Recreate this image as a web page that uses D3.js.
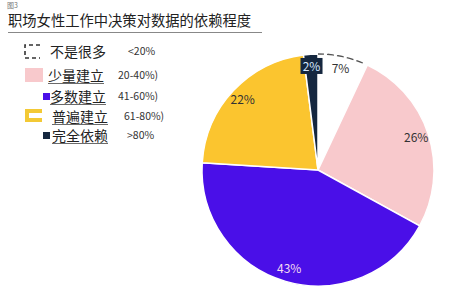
<!DOCTYPE html>
<html>
<head>
<meta charset="utf-8">
<script src="https://cdn.jsdelivr.net/npm/d3@7"></script>
<style>
  body { margin: 0; background: #fff; }
  svg { display: block; font-family: "Noto Sans CJK SC", "Noto Sans", sans-serif; }
</style>
</head>
<body>
<div id="chart"></div>
<script>
// data
var categories = ["不是很多", "少量建立", "多数建立", "普遍建立", "完全依赖"];
var ranges = ["<20%", "20-40%)", "41-60%)", "61-80%)", ">80%"];
var values = [7, 26, 43, 22, 2];
var colors = ["#ffffff", "#f8c9cc", "#4a0fe8", "#fbc52f", "#15273f"];
var labelColors = ["#333", "#333", "#f4dcf0", "#333", "#d6e8ff"];

var width = 451, height = 297;

var svg = d3.select("#chart").append("svg")
  .attr("width", width)
  .attr("height", height);

// title
svg.append("text").attr("x", 7).attr("y", 8)
  .style("font-size", "7px").style("fill", "#777").text("图3");
svg.append("text").attr("x", 8).attr("y", 26)
  .style("font-size", "14.3px").style("fill", "#222").text("职场女性工作中决策对数据的依赖程度");
svg.append("line").attr("x1", 8).attr("x2", 262).attr("y1", 32.5).attr("y2", 32.5)
  .attr("stroke", "#888").attr("stroke-width", 1);

// pie
var cx = 318, cy = 170, r = 116;
var g = svg.append("g").attr("transform", "translate(" + cx + "," + cy + ")");

var pie = d3.pie().sort(null).value(d => d);
var arcs = pie(values);
var arc = d3.arc().innerRadius(0).outerRadius(r);
var labelArc = d3.arc().innerRadius(r * 0.89).outerRadius(r * 0.89);

g.selectAll("path.slice")
  .data(arcs)
  .enter()
  .append("path")
  .attr("class", "slice")
  .attr("d", arc)
  .attr("fill", (d, i) => colors[i])
  .attr("stroke", "#fff")
  .attr("stroke-width", 1.5);

// dashed outer edge of the white slice
var outline = d3.arc().innerRadius(r).outerRadius(r);
g.append("path")
  .attr("d", outline({ startAngle: arcs[0].startAngle, endAngle: arcs[0].endAngle - 0.03 }))
  .attr("fill", "none")
  .attr("stroke", "#555")
  .attr("stroke-width", 1.3)
  .attr("stroke-dasharray", "6,4");

// box behind the small label
var c2 = labelArc.centroid(arcs[4]);
g.append("rect")
  .attr("x", c2[0] - 11).attr("y", c2[1] - 9)
  .attr("width", 22).attr("height", 16)
  .attr("fill", colors[4]);

g.selectAll("text.lbl")
  .data(arcs)
  .enter()
  .append("text")
  .attr("class", "lbl")
  .attr("transform", d => "translate(" + labelArc.centroid(d) + ")")
  .attr("text-anchor", "middle")
  .attr("dy", "0.35em")
  .style("font-size", "12px")
  .style("fill", (d, i) => labelColors[i])
  .text(d => d.data + "%");

// legend
var rowY = [51, 75, 96, 116, 135];
var textX = [50, 48, 50, 52, 52];
var rangeX = [128, 118, 118, 124, 127];
var lg = svg.append("g");

// row 1: dashed bracket
lg.append("path")
  .attr("d", "M40,45 L25,45 L25,58 L40,58")
  .attr("fill", "none").attr("stroke", "#333").attr("stroke-width", 1.6)
  .attr("stroke-dasharray", "4,3");
// row 2: pink block
lg.append("rect").attr("x", 25).attr("y", 68).attr("width", 18).attr("height", 14)
  .attr("fill", colors[1]);
// row 3: small purple square
lg.append("rect").attr("x", 43).attr("y", 93).attr("width", 7).attr("height", 7)
  .attr("fill", colors[2]);
// row 4: yellow bracket
lg.append("path")
  .attr("d", "M42,111 L27,111 L27,120 L42,120")
  .attr("fill", "none").attr("stroke", "#f3c935").attr("stroke-width", 4);
// row 5: small navy square
lg.append("rect").attr("x", 43).attr("y", 132).attr("width", 7).attr("height", 7)
  .attr("fill", colors[4]);

categories.forEach(function (c, i) {
  lg.append("text")
    .attr("x", textX[i]).attr("y", rowY[i] + 6)
    .style("font-size", "14px").style("fill", "#222")
    .text(c);
  if (i > 0) {
    lg.append("line")
      .attr("x1", textX[i]).attr("x2", textX[i] + 56)
      .attr("y1", rowY[i] + 8.5).attr("y2", rowY[i] + 8.5)
      .attr("stroke", "#444").attr("stroke-width", 0.8);
  }
  lg.append("text")
    .attr("x", rangeX[i]).attr("y", rowY[i] + 4)
    .style("font-size", "10.5px").style("fill", "#333")
    .text(ranges[i]);
});
</script>
</body>
</html>
